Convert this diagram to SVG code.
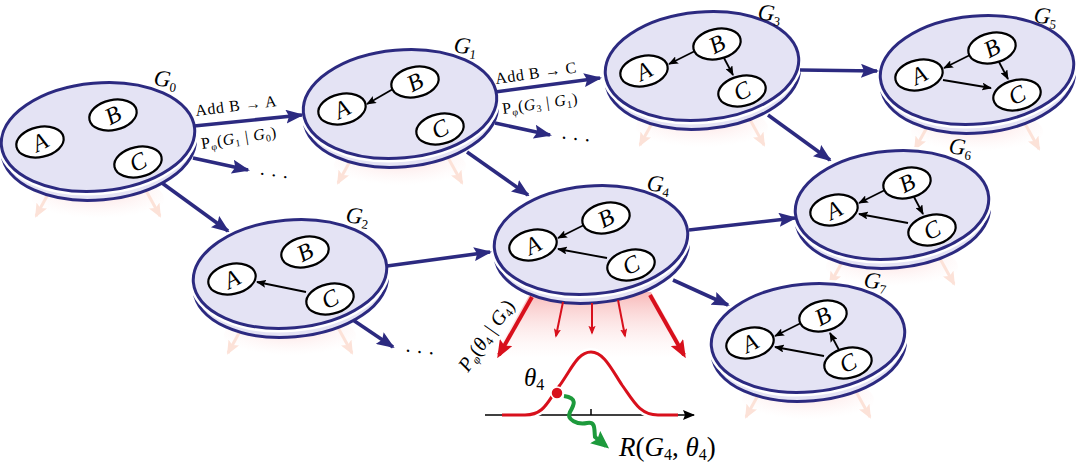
<svg xmlns="http://www.w3.org/2000/svg" width="1079" height="468" viewBox="0 0 1079 468">
<style>
.disk{fill:#e4e3f4;stroke:#2c2a80;stroke-width:3}
.rim{fill:none;stroke:#ffffff;stroke-width:8}
.nd{fill:#fff;stroke:#000;stroke-width:2.2}
.nt{font-family:"Liberation Serif",serif;font-style:italic;font-size:24px;fill:#000;text-anchor:middle}
.ia{stroke:#000;stroke-width:1.8;fill:none;marker-end:url(#ah)}
.glab{font-family:"Liberation Serif",serif;font-style:italic;font-size:23px;fill:#000}
.sub{font-size:13px;font-style:normal}
.con{stroke:#2c2a80;stroke-width:3.6;fill:none;marker-end:url(#nav)}
.red{stroke:#d8101c;fill:none;marker-end:url(#rh)}
.fa{stroke:#fce2d8;stroke-width:3;fill:none;marker-end:url(#fh)}
.lbl{font-family:"Liberation Serif",serif;font-size:16px;letter-spacing:0.6px;fill:#000}
.dots{font-family:"Liberation Serif",serif;font-size:20px;fill:#000}
.math{font-family:"Liberation Serif",serif;font-style:italic;fill:#000}
</style>
<defs>
<marker id="nav" markerUnits="userSpaceOnUse" viewBox="0 0 18 14" markerWidth="18" markerHeight="14" refX="16" refY="7" orient="auto"><path d="M0,0 L18,7 L0,14 L3,7 z" fill="#2c2a80"/></marker>
<marker id="ah" markerUnits="userSpaceOnUse" viewBox="0 0 10 8" markerWidth="10" markerHeight="8" refX="9" refY="4" orient="auto"><path d="M0,0 L10,4 L0,8 L2,4 z" fill="#000"/></marker>
<marker id="rh" viewBox="0 0 10 8" markerWidth="4.5" markerHeight="3.6" refX="8" refY="4" orient="auto"><path d="M0,0 L10,4 L0,8 L2,4 z" fill="#d8101c"/></marker>
<marker id="fh" markerUnits="userSpaceOnUse" viewBox="0 0 14 12" markerWidth="14" markerHeight="12" refX="12" refY="6" orient="auto"><path d="M0,0 L14,6 L0,12 L3,6 z" fill="#fce2d8"/></marker>
<marker id="gh" markerUnits="userSpaceOnUse" viewBox="0 0 18 16" markerWidth="18" markerHeight="16" refX="14" refY="8" orient="auto"><path d="M0,0 L18,8 L0,16 L3,8 z" fill="#1d9a3c"/></marker>
<marker id="kh" markerUnits="userSpaceOnUse" viewBox="0 0 12 10" markerWidth="12" markerHeight="10" refX="11" refY="5" orient="auto"><path d="M0,0 L12,5 L0,10 L2,5 z" fill="#000"/></marker>
<radialGradient id="halo" cx="0.5" cy="0.3" r="0.6">
<stop offset="0" stop-color="#fbcaca" stop-opacity="0.7"/>
<stop offset="1" stop-color="#fde9e9" stop-opacity="0"/>
</radialGradient>
<linearGradient id="fan" x1="0" y1="0" x2="0" y2="1">
<stop offset="0" stop-color="#f6a7a7" stop-opacity="0.8"/>
<stop offset="1" stop-color="#fde3e3" stop-opacity="0"/>
</linearGradient>
<g id="disk">
<ellipse class="disk" cx="0" cy="9" rx="97" ry="54" transform="rotate(-5)"/>
<ellipse class="rim" rx="97" ry="54" transform="rotate(-5)"/>
<ellipse class="disk" rx="97" ry="54" transform="rotate(-5)"/>
</g>
<g id="halodec">
<ellipse cx="0" cy="62" rx="66" ry="24" fill="url(#halo)"/>
<path class="fa" d="M-46,50 L-62,79"/>
<path class="fa" d="M46,50 L62,79"/>
</g>
</defs>

<g id="G0" transform="translate(98,137)">
<use href="#halodec"/>
<use href="#disk"/>
<g transform="translate(-58,5) rotate(-12)"><ellipse class="nd" rx="24" ry="15"/><text class="nt" y="8" transform="rotate(-15)">A</text></g>
<g transform="translate(15,-22) rotate(-12)"><ellipse class="nd" rx="24" ry="15"/><text class="nt" y="8" transform="rotate(-15)">B</text></g>
<g transform="translate(40,25) rotate(-12)"><ellipse class="nd" rx="24" ry="15"/><text class="nt" y="8" transform="rotate(-15)">C</text></g>
<text class="glab" x="55" y="-52" transform="rotate(8 55 -52)">G<tspan class="sub" dy="4">0</tspan></text>
</g>

<g id="G1" transform="translate(400,104)">
<use href="#halodec"/>
<use href="#disk"/>
<path class="ia" d="M-7,-15 L-33,0"/>
<g transform="translate(-58,5) rotate(-12)"><ellipse class="nd" rx="24" ry="15"/><text class="nt" y="8" transform="rotate(-15)">A</text></g>
<g transform="translate(15,-22) rotate(-12)"><ellipse class="nd" rx="24" ry="15"/><text class="nt" y="8" transform="rotate(-15)">B</text></g>
<g transform="translate(40,25) rotate(-12)"><ellipse class="nd" rx="24" ry="15"/><text class="nt" y="8" transform="rotate(-15)">C</text></g>
<text class="glab" x="53" y="-52" transform="rotate(8 53 -52)">G<tspan class="sub" dy="4">1</tspan></text>
</g>

<g id="G2" transform="translate(290,274)">
<use href="#halodec"/>
<use href="#disk"/>
<path class="ia" d="M16,18 L-33,8"/>
<g transform="translate(-58,5) rotate(-12)"><ellipse class="nd" rx="24" ry="15"/><text class="nt" y="8" transform="rotate(-15)">A</text></g>
<g transform="translate(15,-22) rotate(-12)"><ellipse class="nd" rx="24" ry="15"/><text class="nt" y="8" transform="rotate(-15)">B</text></g>
<g transform="translate(40,25) rotate(-12)"><ellipse class="nd" rx="24" ry="15"/><text class="nt" y="8" transform="rotate(-15)">C</text></g>
<text class="glab" x="55" y="-52" transform="rotate(8 55 -52)">G<tspan class="sub" dy="4">2</tspan></text>
</g>

<g id="G3" transform="translate(702,66)">
<use href="#halodec"/>
<use href="#disk"/>
<path class="ia" d="M-7,-15 L-33,-2"/>
<path class="ia" d="M22,-8 L31,9"/>
<g transform="translate(-58,5) rotate(-12)"><ellipse class="nd" rx="24" ry="15"/><text class="nt" y="8" transform="rotate(-15)">A</text></g>
<g transform="translate(15,-22) rotate(-12)"><ellipse class="nd" rx="24" ry="15"/><text class="nt" y="8" transform="rotate(-15)">B</text></g>
<g transform="translate(40,25) rotate(-12)"><ellipse class="nd" rx="24" ry="15"/><text class="nt" y="8" transform="rotate(-15)">C</text></g>
<text class="glab" x="55" y="-47" font-size="21" transform="rotate(8 55 -47)">G<tspan class="sub" dy="4">3</tspan></text>
</g>

<g id="G4" transform="translate(591,240)">
<path d="M-60,52 L60,52 L98,118 L-98,118 z" fill="url(#fan)"/>
<use href="#disk"/>
<path class="ia" d="M-7,-15 L-33,-2"/>
<path class="ia" d="M16,18 L-33,9"/>
<g transform="translate(-58,5) rotate(-12)"><ellipse class="nd" rx="24" ry="15"/><text class="nt" y="8" transform="rotate(-15)">A</text></g>
<g transform="translate(15,-22) rotate(-12)"><ellipse class="nd" rx="24" ry="15"/><text class="nt" y="8" transform="rotate(-15)">B</text></g>
<g transform="translate(40,25) rotate(-12)"><ellipse class="nd" rx="24" ry="15"/><text class="nt" y="8" transform="rotate(-15)">C</text></g>
<text class="glab" x="55" y="-50" transform="rotate(8 55 -50)">G<tspan class="sub" dy="4">4</tspan></text>
</g>

<g id="G5" transform="translate(977,70)">
<use href="#halodec"/>
<use href="#disk"/>
<path class="ia" d="M-7,-15 L-33,-2"/>
<path class="ia" d="M22,-8 L31,9"/>
<path class="ia" d="M-34,10 L14,18"/>
<g transform="translate(-58,5) rotate(-12)"><ellipse class="nd" rx="24" ry="15"/><text class="nt" y="8" transform="rotate(-15)">A</text></g>
<g transform="translate(15,-22) rotate(-12)"><ellipse class="nd" rx="24" ry="15"/><text class="nt" y="8" transform="rotate(-15)">B</text></g>
<g transform="translate(40,25) rotate(-12)"><ellipse class="nd" rx="24" ry="15"/><text class="nt" y="8" transform="rotate(-15)">C</text></g>
<text class="glab" x="56" y="-48" transform="rotate(8 56 -48)">G<tspan class="sub" dy="4">5</tspan></text>
</g>

<g id="G6" transform="translate(892,205)">
<use href="#halodec"/>
<use href="#disk"/>
<path class="ia" d="M-7,-15 L-33,-2"/>
<path class="ia" d="M22,-8 L31,9"/>
<path class="ia" d="M16,18 L-33,9"/>
<g transform="translate(-58,5) rotate(-12)"><ellipse class="nd" rx="24" ry="15"/><text class="nt" y="8" transform="rotate(-15)">A</text></g>
<g transform="translate(15,-22) rotate(-12)"><ellipse class="nd" rx="24" ry="15"/><text class="nt" y="8" transform="rotate(-15)">B</text></g>
<g transform="translate(40,25) rotate(-12)"><ellipse class="nd" rx="24" ry="15"/><text class="nt" y="8" transform="rotate(-15)">C</text></g>
<text class="glab" x="56" y="-52" transform="rotate(8 56 -52)">G<tspan class="sub" dy="4">6</tspan></text>
</g>

<g id="G7" transform="translate(808,338)">
<use href="#halodec"/>
<use href="#disk"/>
<path class="ia" d="M-7,-15 L-33,-2"/>
<path class="ia" d="M31,12 L22,-5"/>
<path class="ia" d="M16,18 L-33,9"/>
<g transform="translate(-58,5) rotate(-12)"><ellipse class="nd" rx="24" ry="15"/><text class="nt" y="8" transform="rotate(-15)">A</text></g>
<g transform="translate(15,-22) rotate(-12)"><ellipse class="nd" rx="24" ry="15"/><text class="nt" y="8" transform="rotate(-15)">B</text></g>
<g transform="translate(40,25) rotate(-12)"><ellipse class="nd" rx="24" ry="15"/><text class="nt" y="8" transform="rotate(-15)">C</text></g>
<text class="glab" x="55" y="-51" transform="rotate(8 55 -51)">G<tspan class="sub" dy="4">7</tspan></text>
</g>

<g id="connectors">
<path class="con" d="M194,126 L302,115"/>
<path class="con" d="M193,158 L248,170"/>
<path class="con" d="M162,183 L228,231"/>
<path class="con" d="M495,92 L600,78"/>
<path class="con" d="M495,123 L550,135"/>
<path class="con" d="M467,152 L528,195"/>
<path class="con" d="M800,70 L877,71"/>
<path class="con" d="M768,115 L830,160"/>
<path class="con" d="M387,266 L490,252"/>
<path class="con" d="M353,320 L393,347"/>
<path class="con" d="M689,230 L795,218"/>
<path class="con" d="M673,280 L728,305"/>
<text class="lbl" x="196" y="116" transform="rotate(-7 196 116)">Add B → A</text>
<text class="lbl" x="202" y="149" transform="rotate(-9 202 149)">P<tspan font-size="10" dy="3">φ</tspan><tspan dy="-3">(</tspan><tspan font-style="italic">G</tspan><tspan font-size="10" dy="3">1</tspan><tspan dy="-3"> | </tspan><tspan font-style="italic">G</tspan><tspan font-size="10" dy="3">0</tspan><tspan dy="-3">)</tspan></text>
<text class="lbl" x="496" y="84" transform="rotate(-8 496 84)">Add B → C</text>
<text class="lbl" x="503" y="114" transform="rotate(-8 503 114)">P<tspan font-size="10" dy="3">φ</tspan><tspan dy="-3">(</tspan><tspan font-style="italic">G</tspan><tspan font-size="10" dy="3">3</tspan><tspan dy="-3"> | </tspan><tspan font-style="italic">G</tspan><tspan font-size="10" dy="3">1</tspan><tspan dy="-3">)</tspan></text>
<text class="dots" x="258" y="180" transform="rotate(8 258 180)">· · ·</text>
<text class="dots" x="560" y="144" transform="rotate(6 560 144)">· · ·</text>
<text class="dots" x="404" y="357" transform="rotate(6 404 357)">· · ·</text>
<path class="red" stroke-width="4" d="M532,297 L499,355"/>
<path class="red" stroke-width="2" d="M563,302 L556,336"/>
<path class="red" stroke-width="2" d="M592,303 L592,333"/>
<path class="red" stroke-width="2" d="M618,300 L625,336"/>
<path class="red" stroke-width="4" d="M650,295 L684,355"/>
<text class="math" font-size="20" x="468" y="373" transform="rotate(-55 468 373)">P<tspan font-size="12" dy="3">φ</tspan><tspan dy="-3" font-style="normal">(</tspan>θ<tspan font-size="12" dy="3" font-style="normal">4</tspan><tspan dy="-3" font-style="normal"> | </tspan>G<tspan font-size="12" dy="3" font-style="normal">4</tspan><tspan dy="-3" font-style="normal">)</tspan></text>
<path d="M485,415 L694,415" stroke="#000" stroke-width="1.5" fill="none" marker-end="url(#kh)"/>
<path d="M591,409 L591,415" stroke="#000" stroke-width="1.5"/>
<path d="M502,415 L525,415 C545,415 548,400 560,385 C572,368 578,352 591,352 C604,352 612,370 622,385 C634,402 640,415 658,415 L678,415" stroke="#fff" stroke-width="8" fill="none"/>
<path d="M502,415 L525,415 C545,415 548,400 560,385 C572,368 578,352 591,352 C604,352 612,370 622,385 C634,402 640,415 658,415 L678,415" stroke="#d8101c" stroke-width="3" fill="none"/>
<path d="M564,396 C578,398 574,405 570,412 C566,420 578,425 587,423 C596,421 594,430 595,437 L606,446" stroke="#1d9a3c" stroke-width="4" fill="none" marker-end="url(#gh)"/>
<circle cx="557" cy="393" r="6" fill="#d8101c" stroke="#fff" stroke-width="1.5"/>
<text class="math" font-size="25" x="524" y="386">θ<tspan font-size="16" dy="4" font-style="normal">4</tspan></text>
<text class="math" font-size="27" x="619" y="456">R<tspan font-style="normal">(</tspan>G<tspan font-size="16" dy="4" font-style="normal">4</tspan><tspan dy="-4" font-style="normal">, </tspan>θ<tspan font-size="16" dy="4" font-style="normal">4</tspan><tspan dy="-4" font-style="normal">)</tspan></text>
</g>
</svg>
